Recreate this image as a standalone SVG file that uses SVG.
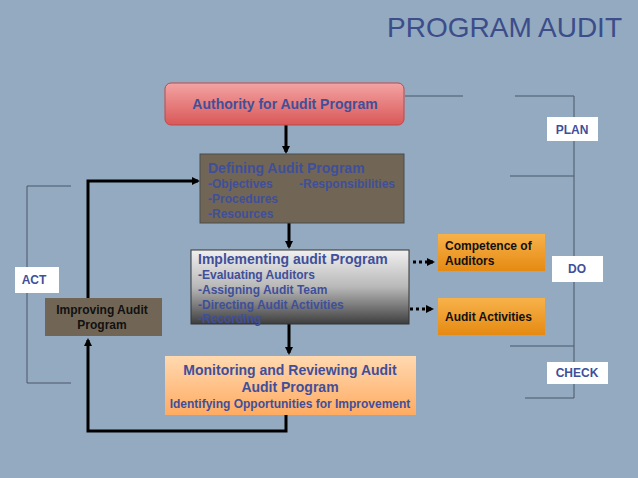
<svg xmlns="http://www.w3.org/2000/svg" width="638" height="478" viewBox="0 0 638 478">
<style>
text{font-family:"Liberation Sans",Arial,sans-serif;font-weight:bold}
.b{fill:#3f4f9a}
.k{fill:#111}
.br{stroke:#4b5668;stroke-width:1;fill:none}
.tag{fill:#fff}
.ln{stroke:#000;stroke-width:3;fill:none}
.dt{stroke:#000;stroke-width:3;stroke-dasharray:3 3;fill:none}
</style>
<defs>
<marker id="ah" markerWidth="8" markerHeight="8" refX="6" refY="4" orient="auto" markerUnits="userSpaceOnUse"><path d="M0,0L8,4L0,8z" fill="#000"/></marker>
<linearGradient id="red" x1="0" y1="0" x2="0" y2="1"><stop offset="0" stop-color="#f4a3a3"/><stop offset="1" stop-color="#d95858"/></linearGradient>
<linearGradient id="gray" x1="0" y1="0" x2="0" y2="1"><stop offset="0" stop-color="#f0f0f0"/><stop offset="0.5" stop-color="#b8b8b8"/><stop offset="1" stop-color="#3e3e3e"/></linearGradient>
<linearGradient id="org" x1="0" y1="0" x2="0" y2="1"><stop offset="0" stop-color="#f8b24a"/><stop offset="1" stop-color="#e58a12"/></linearGradient>
<linearGradient id="lor" x1="0" y1="0" x2="0" y2="1"><stop offset="0" stop-color="#ffd9b0"/><stop offset="1" stop-color="#ffab62"/></linearGradient>
</defs>
<rect width="638" height="478" fill="#93aac0"/>
<text x="622" y="37" text-anchor="end" font-size="28" style="font-weight:normal" fill="#3c4d8a">PROGRAM AUDIT</text>
<g id="brackets">
<path class="br" d="M405,96H463M515,96H574V398H525M510,176H574M510,346H574"/>
<path class="br" d="M71,186H27V383H71"/>
</g>
<g id="plan"><rect class="tag" x="547" y="117" width="51" height="24"/><text class="b" x="572" y="134" text-anchor="middle" font-size="12">PLAN</text></g>
<g id="do"><rect class="tag" x="552" y="256" width="51" height="26"/><text class="b" x="577" y="273" text-anchor="middle" font-size="12">DO</text></g>
<g id="check"><rect class="tag" x="547" y="362" width="61" height="22"/><text class="b" x="577" y="377" text-anchor="middle" font-size="12">CHECK</text></g>
<g id="act"><rect class="tag" x="15" y="267" width="44" height="26"/><text class="b" x="34" y="284" text-anchor="middle" font-size="12">ACT</text></g>
<g id="connectors">
<path class="ln" d="M286,125V152" marker-end="url(#ah)"/>
<path class="ln" d="M289,223V247" marker-end="url(#ah)"/>
<path class="ln" d="M289,324V353" marker-end="url(#ah)"/>
<path class="ln" d="M88,298V181H198" marker-end="url(#ah)"/>
<path class="ln" d="M286,415V431H88V340" marker-end="url(#ah)"/>
<path class="dt" d="M413,262H433" marker-end="url(#ah)"/>
<path class="dt" d="M410,309H432" marker-end="url(#ah)"/>
</g>
<g id="authority"><rect x="165" y="83" width="239" height="42" rx="6" fill="url(#red)" stroke="#c04848"/><text class="b" x="285" y="109" text-anchor="middle" font-size="14">Authority for Audit Program</text></g>
<g id="defining"><rect x="200" y="154" width="204" height="69" fill="#716656" stroke="#4a4a4a"/>
<text class="b" font-size="12"><tspan x="208" y="173" font-size="14">Defining Audit Program</tspan><tspan x="208" y="188">-Objectives</tspan><tspan x="299" y="188">-Responsibilities</tspan><tspan x="208" y="203">-Procedures</tspan><tspan x="208" y="218">-Resources</tspan></text></g>
<g id="implementing"><rect x="191" y="250" width="218" height="74" fill="url(#gray)" stroke="#333"/>
<text class="b" font-size="12"><tspan x="198" y="264" font-size="14">Implementing audit Program</tspan><tspan x="198" y="279">-Evaluating Auditors</tspan><tspan x="198" y="294">-Assigning Audit Team</tspan><tspan x="198" y="309">-Directing Audit Activities</tspan><tspan x="198" y="323">-Recording</tspan></text></g>
<g id="competence"><rect x="438" y="234" width="107" height="37" fill="url(#org)"/><text class="k" font-size="12"><tspan x="445" y="250">Competence of</tspan><tspan x="445" y="265">Auditors</tspan></text></g>
<g id="activities"><rect x="438" y="298" width="107" height="37" fill="url(#org)"/><text class="k" x="445" y="321" font-size="12">Audit Activities</text></g>
<g id="improving"><rect x="45" y="298" width="117" height="38" fill="#716656"/><text class="k" font-size="12" text-anchor="middle"><tspan x="102" y="314">Improving Audit</tspan><tspan x="102" y="329">Program</tspan></text></g>
<g id="monitoring"><rect x="165" y="356" width="251" height="59" fill="url(#lor)"/><text class="b" text-anchor="middle"><tspan x="290" y="375" font-size="14">Monitoring and Reviewing Audit</tspan><tspan x="290" y="392" font-size="14">Audit Program</tspan><tspan x="290" y="408" font-size="12">Identifying Opportunities for Improvement</tspan></text></g>
</svg>
